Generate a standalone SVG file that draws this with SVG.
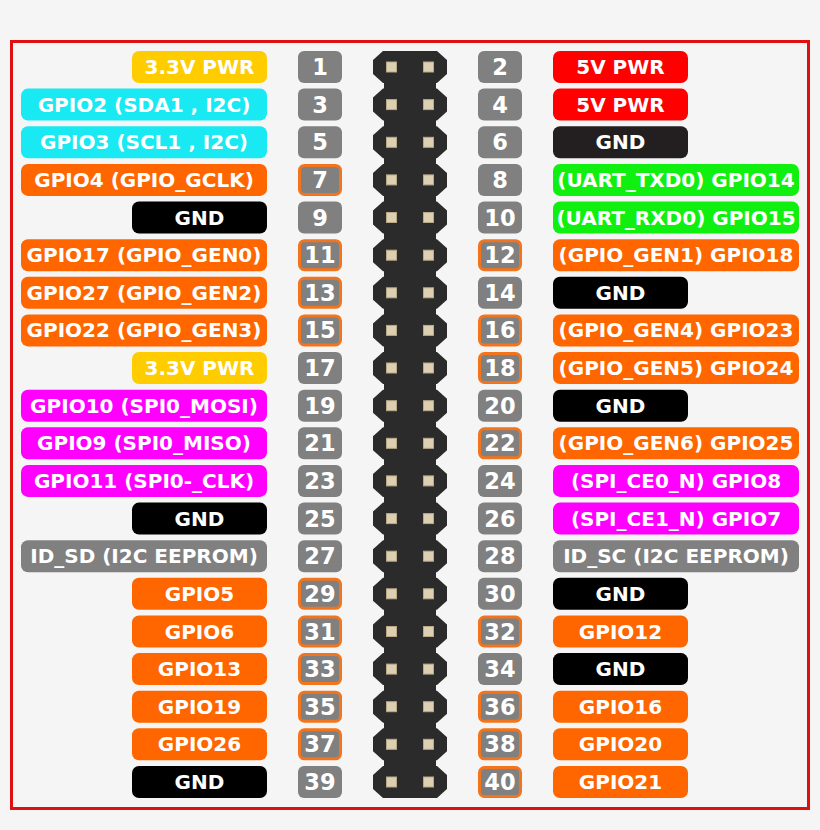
<svg xmlns="http://www.w3.org/2000/svg" xmlns:xlink="http://www.w3.org/1999/xlink" width="820" height="830" viewBox="0 0 820 830">
<style>
.lbl{font-family:"DejaVu Sans","Liberation Sans",sans-serif;font-weight:bold;font-size:20px;fill:#ffffff;text-anchor:middle}
.num{font-family:"DejaVu Sans","Liberation Sans",sans-serif;font-weight:bold;font-size:22.5px;fill:#ffffff;text-anchor:middle}
.nb{fill:#808080}
.nbo{fill:#808080;stroke:#f2741c;stroke-width:3}
.yel{fill:#ffcc00}
.cya{fill:#18e9f2}
.ora{fill:#ff6600}
.blk{fill:#000000}
.dgr{fill:#231f20}
.red{fill:#ff0000}
.grn{fill:#10f010}
.mag{fill:#ff00ff}
.gry{fill:#808080}
.pinsq{fill:#dccfb2;stroke:#b9a987;stroke-width:1}
</style>
<defs>
<polygon id="seg" points="383,-16 437,-16 447,-7 447,7 437,16 383,16 373,7 373,-7" fill="#2b2b2b"/>
<g id="pins"><rect class="pinsq" x="386.5" y="-5" width="10" height="10"/><rect class="pinsq" x="423.5" y="-5" width="10" height="10"/></g>
</defs>
<rect x="0" y="0" width="820" height="830" fill="#f5f5f5"/>
<rect x="11.5" y="41.5" width="797" height="767" fill="none" stroke="#e01010" stroke-width="3"/>
<g id="header">
<rect x="384" y="67" width="52" height="715" fill="#2b2b2b"/>
<use xlink:href="#seg" y="67"/><use xlink:href="#seg" y="104.6"/><use xlink:href="#seg" y="142.3"/><use xlink:href="#seg" y="179.9"/><use xlink:href="#seg" y="217.5"/>
<use xlink:href="#seg" y="255.2"/><use xlink:href="#seg" y="292.8"/><use xlink:href="#seg" y="330.4"/><use xlink:href="#seg" y="368"/><use xlink:href="#seg" y="405.7"/>
<use xlink:href="#seg" y="443.3"/><use xlink:href="#seg" y="480.9"/><use xlink:href="#seg" y="518.6"/><use xlink:href="#seg" y="556.2"/><use xlink:href="#seg" y="593.8"/>
<use xlink:href="#seg" y="631.5"/><use xlink:href="#seg" y="669.1"/><use xlink:href="#seg" y="706.7"/><use xlink:href="#seg" y="744.3"/><use xlink:href="#seg" y="782"/>
<use xlink:href="#pins" y="67"/><use xlink:href="#pins" y="104.6"/><use xlink:href="#pins" y="142.3"/><use xlink:href="#pins" y="179.9"/><use xlink:href="#pins" y="217.5"/>
<use xlink:href="#pins" y="255.2"/><use xlink:href="#pins" y="292.8"/><use xlink:href="#pins" y="330.4"/><use xlink:href="#pins" y="368"/><use xlink:href="#pins" y="405.7"/>
<use xlink:href="#pins" y="443.3"/><use xlink:href="#pins" y="480.9"/><use xlink:href="#pins" y="518.6"/><use xlink:href="#pins" y="556.2"/><use xlink:href="#pins" y="593.8"/>
<use xlink:href="#pins" y="631.5"/><use xlink:href="#pins" y="669.1"/><use xlink:href="#pins" y="706.7"/><use xlink:href="#pins" y="744.3"/><use xlink:href="#pins" y="782"/>
</g>
<g id="connectors"></g>
<!-- left column -->
<g id="pin1" transform="translate(0,67)"><rect class="yel" x="132" y="-16" width="135" height="32" rx="7"/><text class="lbl" x="199.5" y="7">3.3V PWR</text><rect class="nb" x="298" y="-16" width="44" height="32" rx="6"/><text class="num" x="320" y="8">1</text></g>
<g id="pin3" transform="translate(0,104.6)"><rect class="cya" x="21" y="-16" width="246" height="32" rx="7"/><text class="lbl" x="144" y="7">GPIO2 (SDA1 , I2C)</text><rect class="nb" x="298" y="-16" width="44" height="32" rx="6"/><text class="num" x="320" y="8">3</text></g>
<g id="pin5" transform="translate(0,142.3)"><rect class="cya" x="21" y="-16" width="246" height="32" rx="7"/><text class="lbl" x="144" y="7">GPIO3 (SCL1 , I2C)</text><rect class="nb" x="298" y="-16" width="44" height="32" rx="6"/><text class="num" x="320" y="8">5</text></g>
<g id="pin7" transform="translate(0,179.9)"><rect class="ora" x="21" y="-16" width="246" height="32" rx="7"/><text class="lbl" x="144" y="7">GPIO4 (GPIO_GCLK)</text><rect class="nbo" x="299.5" y="-14.5" width="41" height="29" rx="5"/><text class="num" x="320" y="8">7</text></g>
<g id="pin9" transform="translate(0,217.5)"><rect class="blk" x="132" y="-16" width="135" height="32" rx="7"/><text class="lbl" x="199.5" y="7">GND</text><rect class="nb" x="298" y="-16" width="44" height="32" rx="6"/><text class="num" x="320" y="8">9</text></g>
<g id="pin11" transform="translate(0,255.2)"><rect class="ora" x="21" y="-16" width="246" height="32" rx="7"/><text class="lbl" x="144" y="7">GPIO17 (GPIO_GEN0)</text><rect class="nbo" x="299.5" y="-14.5" width="41" height="29" rx="5"/><text class="num" x="320" y="8">11</text></g>
<g id="pin13" transform="translate(0,292.8)"><rect class="ora" x="21" y="-16" width="246" height="32" rx="7"/><text class="lbl" x="144" y="7">GPIO27 (GPIO_GEN2)</text><rect class="nbo" x="299.5" y="-14.5" width="41" height="29" rx="5"/><text class="num" x="320" y="8">13</text></g>
<g id="pin15" transform="translate(0,330.4)"><rect class="ora" x="21" y="-16" width="246" height="32" rx="7"/><text class="lbl" x="144" y="7">GPIO22 (GPIO_GEN3)</text><rect class="nbo" x="299.5" y="-14.5" width="41" height="29" rx="5"/><text class="num" x="320" y="8">15</text></g>
<g id="pin17" transform="translate(0,368)"><rect class="yel" x="132" y="-16" width="135" height="32" rx="7"/><text class="lbl" x="199.5" y="7">3.3V PWR</text><rect class="nb" x="298" y="-16" width="44" height="32" rx="6"/><text class="num" x="320" y="8">17</text></g>
<g id="pin19" transform="translate(0,405.7)"><rect class="mag" x="21" y="-16" width="246" height="32" rx="7"/><text class="lbl" x="144" y="7">GPIO10 (SPI0_MOSI)</text><rect class="nb" x="298" y="-16" width="44" height="32" rx="6"/><text class="num" x="320" y="8">19</text></g>
<g id="pin21" transform="translate(0,443.3)"><rect class="mag" x="21" y="-16" width="246" height="32" rx="7"/><text class="lbl" x="144" y="7">GPIO9 (SPI0_MISO)</text><rect class="nb" x="298" y="-16" width="44" height="32" rx="6"/><text class="num" x="320" y="8">21</text></g>
<g id="pin23" transform="translate(0,480.9)"><rect class="mag" x="21" y="-16" width="246" height="32" rx="7"/><text class="lbl" x="144" y="7">GPIO11 (SPI0-_CLK)</text><rect class="nb" x="298" y="-16" width="44" height="32" rx="6"/><text class="num" x="320" y="8">23</text></g>
<g id="pin25" transform="translate(0,518.6)"><rect class="blk" x="132" y="-16" width="135" height="32" rx="7"/><text class="lbl" x="199.5" y="7">GND</text><rect class="nb" x="298" y="-16" width="44" height="32" rx="6"/><text class="num" x="320" y="8">25</text></g>
<g id="pin27" transform="translate(0,556.2)"><rect class="gry" x="21" y="-16" width="246" height="32" rx="7"/><text class="lbl" x="144" y="7">ID_SD (I2C EEPROM)</text><rect class="nb" x="298" y="-16" width="44" height="32" rx="6"/><text class="num" x="320" y="8">27</text></g>
<g id="pin29" transform="translate(0,593.8)"><rect class="ora" x="132" y="-16" width="135" height="32" rx="7"/><text class="lbl" x="199.5" y="7">GPIO5</text><rect class="nbo" x="299.5" y="-14.5" width="41" height="29" rx="5"/><text class="num" x="320" y="8">29</text></g>
<g id="pin31" transform="translate(0,631.5)"><rect class="ora" x="132" y="-16" width="135" height="32" rx="7"/><text class="lbl" x="199.5" y="7">GPIO6</text><rect class="nbo" x="299.5" y="-14.5" width="41" height="29" rx="5"/><text class="num" x="320" y="8">31</text></g>
<g id="pin33" transform="translate(0,669.1)"><rect class="ora" x="132" y="-16" width="135" height="32" rx="7"/><text class="lbl" x="199.5" y="7">GPIO13</text><rect class="nbo" x="299.5" y="-14.5" width="41" height="29" rx="5"/><text class="num" x="320" y="8">33</text></g>
<g id="pin35" transform="translate(0,706.7)"><rect class="ora" x="132" y="-16" width="135" height="32" rx="7"/><text class="lbl" x="199.5" y="7">GPIO19</text><rect class="nbo" x="299.5" y="-14.5" width="41" height="29" rx="5"/><text class="num" x="320" y="8">35</text></g>
<g id="pin37" transform="translate(0,744.3)"><rect class="ora" x="132" y="-16" width="135" height="32" rx="7"/><text class="lbl" x="199.5" y="7">GPIO26</text><rect class="nbo" x="299.5" y="-14.5" width="41" height="29" rx="5"/><text class="num" x="320" y="8">37</text></g>
<g id="pin39" transform="translate(0,782)"><rect class="blk" x="132" y="-16" width="135" height="32" rx="7"/><text class="lbl" x="199.5" y="7">GND</text><rect class="nb" x="298" y="-16" width="44" height="32" rx="6"/><text class="num" x="320" y="8">39</text></g>
<!-- right column -->
<g id="pin2" transform="translate(0,67)"><rect class="nb" x="478" y="-16" width="44" height="32" rx="6"/><text class="num" x="500" y="8">2</text><rect class="red" x="553" y="-16" width="135" height="32" rx="7"/><text class="lbl" x="620.5" y="7">5V PWR</text></g>
<g id="pin4" transform="translate(0,104.6)"><rect class="nb" x="478" y="-16" width="44" height="32" rx="6"/><text class="num" x="500" y="8">4</text><rect class="red" x="553" y="-16" width="135" height="32" rx="7"/><text class="lbl" x="620.5" y="7">5V PWR</text></g>
<g id="pin6" transform="translate(0,142.3)"><rect class="nb" x="478" y="-16" width="44" height="32" rx="6"/><text class="num" x="500" y="8">6</text><rect class="dgr" x="553" y="-16" width="135" height="32" rx="7"/><text class="lbl" x="620.5" y="7">GND</text></g>
<g id="pin8" transform="translate(0,179.9)"><rect class="nb" x="478" y="-16" width="44" height="32" rx="6"/><text class="num" x="500" y="8">8</text><rect class="grn" x="553" y="-16" width="246" height="32" rx="7"/><text class="lbl" x="676" y="7">(UART_TXD0) GPIO14</text></g>
<g id="pin10" transform="translate(0,217.5)"><rect class="nb" x="478" y="-16" width="44" height="32" rx="6"/><text class="num" x="500" y="8">10</text><rect class="grn" x="553" y="-16" width="246" height="32" rx="7"/><text class="lbl" x="676" y="7">(UART_RXD0) GPIO15</text></g>
<g id="pin12" transform="translate(0,255.2)"><rect class="nbo" x="479.5" y="-14.5" width="41" height="29" rx="5"/><text class="num" x="500" y="8">12</text><rect class="ora" x="553" y="-16" width="246" height="32" rx="7"/><text class="lbl" x="676" y="7">(GPIO_GEN1) GPIO18</text></g>
<g id="pin14" transform="translate(0,292.8)"><rect class="nb" x="478" y="-16" width="44" height="32" rx="6"/><text class="num" x="500" y="8">14</text><rect class="blk" x="553" y="-16" width="135" height="32" rx="7"/><text class="lbl" x="620.5" y="7">GND</text></g>
<g id="pin16" transform="translate(0,330.4)"><rect class="nbo" x="479.5" y="-14.5" width="41" height="29" rx="5"/><text class="num" x="500" y="8">16</text><rect class="ora" x="553" y="-16" width="246" height="32" rx="7"/><text class="lbl" x="676" y="7">(GPIO_GEN4) GPIO23</text></g>
<g id="pin18" transform="translate(0,368)"><rect class="nbo" x="479.5" y="-14.5" width="41" height="29" rx="5"/><text class="num" x="500" y="8">18</text><rect class="ora" x="553" y="-16" width="246" height="32" rx="7"/><text class="lbl" x="676" y="7">(GPIO_GEN5) GPIO24</text></g>
<g id="pin20" transform="translate(0,405.7)"><rect class="nb" x="478" y="-16" width="44" height="32" rx="6"/><text class="num" x="500" y="8">20</text><rect class="blk" x="553" y="-16" width="135" height="32" rx="7"/><text class="lbl" x="620.5" y="7">GND</text></g>
<g id="pin22" transform="translate(0,443.3)"><rect class="nbo" x="479.5" y="-14.5" width="41" height="29" rx="5"/><text class="num" x="500" y="8">22</text><rect class="ora" x="553" y="-16" width="246" height="32" rx="7"/><text class="lbl" x="676" y="7">(GPIO_GEN6) GPIO25</text></g>
<g id="pin24" transform="translate(0,480.9)"><rect class="nb" x="478" y="-16" width="44" height="32" rx="6"/><text class="num" x="500" y="8">24</text><rect class="mag" x="553" y="-16" width="246" height="32" rx="7"/><text class="lbl" x="676" y="7">(SPI_CE0_N) GPIO8</text></g>
<g id="pin26" transform="translate(0,518.6)"><rect class="nb" x="478" y="-16" width="44" height="32" rx="6"/><text class="num" x="500" y="8">26</text><rect class="mag" x="553" y="-16" width="246" height="32" rx="7"/><text class="lbl" x="676" y="7">(SPI_CE1_N) GPIO7</text></g>
<g id="pin28" transform="translate(0,556.2)"><rect class="nb" x="478" y="-16" width="44" height="32" rx="6"/><text class="num" x="500" y="8">28</text><rect class="gry" x="553" y="-16" width="246" height="32" rx="7"/><text class="lbl" x="676" y="7">ID_SC (I2C EEPROM)</text></g>
<g id="pin30" transform="translate(0,593.8)"><rect class="nb" x="478" y="-16" width="44" height="32" rx="6"/><text class="num" x="500" y="8">30</text><rect class="blk" x="553" y="-16" width="135" height="32" rx="7"/><text class="lbl" x="620.5" y="7">GND</text></g>
<g id="pin32" transform="translate(0,631.5)"><rect class="nbo" x="479.5" y="-14.5" width="41" height="29" rx="5"/><text class="num" x="500" y="8">32</text><rect class="ora" x="553" y="-16" width="135" height="32" rx="7"/><text class="lbl" x="620.5" y="7">GPIO12</text></g>
<g id="pin34" transform="translate(0,669.1)"><rect class="nb" x="478" y="-16" width="44" height="32" rx="6"/><text class="num" x="500" y="8">34</text><rect class="blk" x="553" y="-16" width="135" height="32" rx="7"/><text class="lbl" x="620.5" y="7">GND</text></g>
<g id="pin36" transform="translate(0,706.7)"><rect class="nbo" x="479.5" y="-14.5" width="41" height="29" rx="5"/><text class="num" x="500" y="8">36</text><rect class="ora" x="553" y="-16" width="135" height="32" rx="7"/><text class="lbl" x="620.5" y="7">GPIO16</text></g>
<g id="pin38" transform="translate(0,744.3)"><rect class="nbo" x="479.5" y="-14.5" width="41" height="29" rx="5"/><text class="num" x="500" y="8">38</text><rect class="ora" x="553" y="-16" width="135" height="32" rx="7"/><text class="lbl" x="620.5" y="7">GPIO20</text></g>
<g id="pin40" transform="translate(0,782)"><rect class="nbo" x="479.5" y="-14.5" width="41" height="29" rx="5"/><text class="num" x="500" y="8">40</text><rect class="ora" x="553" y="-16" width="135" height="32" rx="7"/><text class="lbl" x="620.5" y="7">GPIO21</text></g>
</svg>
